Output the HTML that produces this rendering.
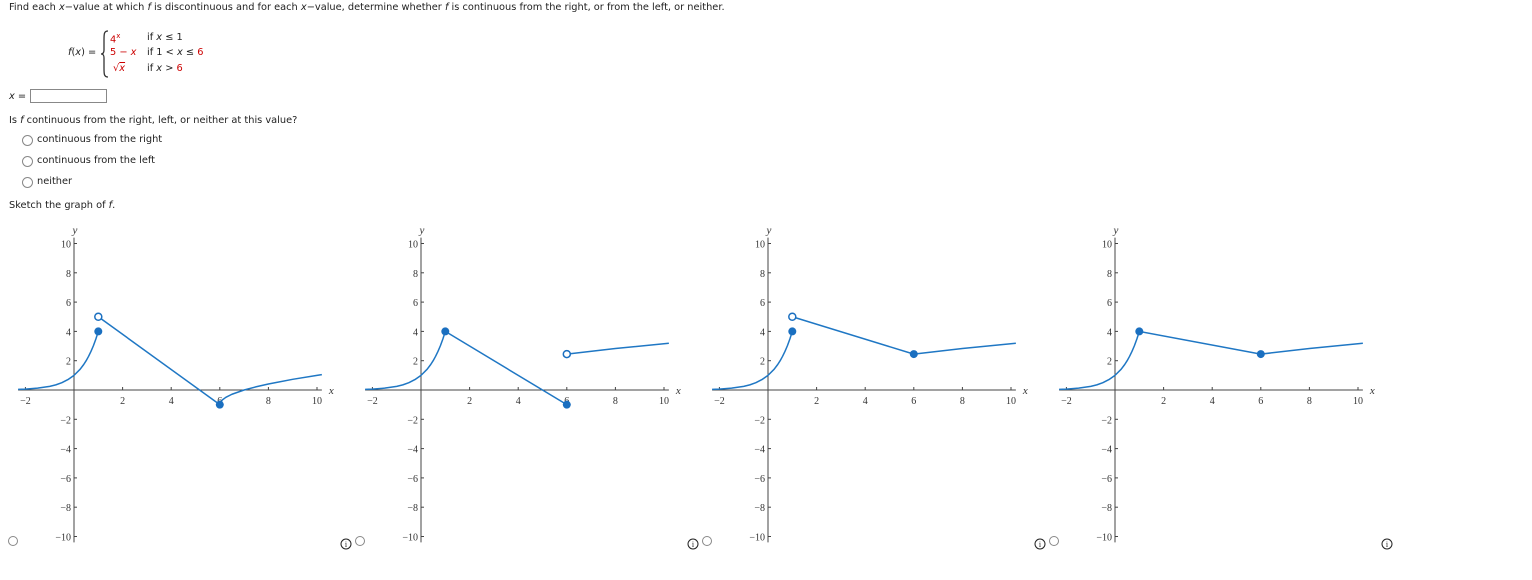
<!DOCTYPE html>
<html><head><meta charset="utf-8">
<style>
body{margin:0;width:1532px;height:580px;background:#fff;font-family:Verdana,"DejaVu Sans",sans-serif;font-size:9.8px;color:#222;position:relative;overflow:hidden}
.a{position:absolute;white-space:nowrap}
.r{color:#c00}
.rad{position:absolute;width:9px;height:9px;border:1px solid #888;border-radius:50%}
</style></head><body>
<div class="a" style="left:9px;top:2px">Find each <i>x</i>−value at which <i>f</i> is discontinuous and for each <i>x</i>−value, determine whether <i>f</i> is continuous from the right, or from the left, or neither.</div>
<div>
<div class="a" style="left:68px;top:47px"><i>f</i>(<i>x</i>) =</div>
<svg class="a" style="left:100px;top:30px" width="10" height="48"><path d="M8 1 C4 1 4 4 4 10 L4 20 C4 23 3 24 1 24 C3 24 4 25 4 28 L4 38 C4 44 4 47 8 47" fill="none" stroke="#333" stroke-width="1.3"/></svg>
<div class="a r" style="left:110px;top:32px">4<sup style="font-size:7px">x</sup></div>
<div class="a r" style="left:110px;top:47px">5 − <i>x</i></div>
<div class="a r" style="left:113px;top:63px">√<span style="text-decoration:overline"><i>x</i></span></div>
<div class="a" style="left:147px;top:32px">if <i>x</i> ≤ 1</div>
<div class="a" style="left:147px;top:47px">if 1 &lt; <i>x</i> ≤ <span class="r">6</span></div>
<div class="a" style="left:147px;top:63px">if <i>x</i> &gt; <span class="r">6</span></div>
</div>
<div class="a" style="left:9px;top:91px"><i>x</i> =</div>
<div class="a" style="left:30px;top:89px;width:75px;height:12px;border:1px solid #888"></div>
<div class="a" style="left:9px;top:115px">Is <i>f</i> continuous from the right, left, or neither at this value?</div>
<div class="rad" style="left:22px;top:135px"></div>
<div class="a" style="left:37px;top:134px">continuous from the right</div>
<div class="rad" style="left:22px;top:156px"></div>
<div class="a" style="left:37px;top:155px">continuous from the left</div>
<div class="rad" style="left:22px;top:177px"></div>
<div class="a" style="left:37px;top:176px">neither</div>
<div class="a" style="left:9px;top:200px">Sketch the graph of <i>f</i>.</div>
<svg id="s" width="1532" height="580" style="position:absolute;left:0;top:0" xmlns="http://www.w3.org/2000/svg"></svg>
<script>
const xTicks=[-2,2,4,6,8,10];
const yTicks=[-10,-8,-6,-4,-2,2,4,6,8,10];
const offsets=[0,347,694,1041];
const expPiece=[[-2.3,0.04],[-2,0.06],[-1.5,0.125],[-1,0.25],[-0.75,0.35],[-0.5,0.5],[-0.25,0.71],[0,1],[0.25,1.41],[0.4,1.74],[0.5,2],[0.6,2.3],[0.7,2.64],[0.8,3.03],[0.9,3.48],[1,4]];
const g1Seg=[expPiece,[[1,5],[6,-1]],[[6,-1],[6.1,-0.68],[6.25,-0.5],[6.5,-0.29],[7,0],[7.5,0.22],[8,0.41],[9,0.73],[10,1],[10.2,1.05]]];
const g1Fill=[[1,4],[6,-1]];const g1Open=[[1,5]];
const g2Seg=[expPiece,[[1,4],[6,-1]],[[6,2.45],[8,2.83],[10.2,3.19]]];
const g2Fill=[[1,4],[6,-1]];const g2Open=[[6,2.45]];
const g3Seg=[expPiece,[[1,5],[6,2.45]],[[6,2.45],[8,2.83],[10.2,3.19]]];
const g3Fill=[[1,4],[6,2.45]];const g3Open=[[1,5]];
const g4Seg=[expPiece,[[1,4],[6,2.45]],[[6,2.45],[8,2.83],[10.2,3.19]]];
const g4Fill=[[1,4],[6,2.45]];const g4Open=[];
const graphs=[[g1Seg,g1Fill,g1Open],[g2Seg,g2Fill,g2Open],[g3Seg,g3Fill,g3Open],[g4Seg,g4Fill,g4Open]];
const NS='http://www.w3.org/2000/svg';const svg=document.getElementById('s');
function mk(t,a,p){const e=document.createElementNS(NS,t);for(const k in a)e.setAttribute(k,a[k]);(p||svg).appendChild(e);return e;}
graphs.forEach((g,i)=>{
 const o=offsets[i];
 const X=v=>o+74+v*24.3, Y=v=>390-v*14.65;
 const grp=mk('g',{});
 
 
 const ax=mk('line',{x1:X(-2.3),x2:X(10.2),y1:Y(0),y2:Y(0),stroke:'#444','stroke-width':1},grp);
 
 const ay=mk('line',{x1:X(0),x2:X(0),y1:Y(10.4),y2:Y(-10.4),stroke:'#444','stroke-width':1},grp);
 
 xTicks.forEach(t=>{mk('line',{x1:X(t),x2:X(t),y1:Y(0)-3,y2:Y(0),stroke:'#444'},grp);
  const tx=mk('text',{x:X(t),y:Y(0)+14,'text-anchor':'middle','font-family':'Liberation Serif,serif','font-size':10,fill:'#333'},grp);tx.textContent=t<0?'−'+(-t):t;
  });
 yTicks.forEach(t=>{mk('line',{x1:X(0),x2:X(0)+3,y1:Y(t),y2:Y(t),stroke:'#444'},grp);
  const tx=mk('text',{x:X(0)-3,y:Y(t)+4,'text-anchor':'end','font-family':'Liberation Serif,serif','font-size':10,fill:'#333'},grp);tx.textContent=t<0?'−'+(-t):t;
  });
 const xl=mk('text',{x:X(10.2)+7,y:Y(0)+4,'font-family':'Liberation Serif,serif','font-style':'italic','font-size':11,fill:'#333'},grp);xl.textContent='x';
 
 const yl=mk('text',{x:X(0)+1,y:Y(10)-10,'text-anchor':'middle','font-family':'Liberation Serif,serif','font-style':'italic','font-size':11,fill:'#333'},grp);yl.textContent='y';
 
 g[0].forEach(seg=>{const p=mk('polyline',{points:seg.map(q=>X(q[0])+','+Y(q[1])).join(' '),fill:'none',stroke:'#1f77c4','stroke-width':1.5,'stroke-linejoin':'round'},grp);
  });
 g[1].forEach(q=>{const c=mk('circle',{cx:X(q[0]),cy:Y(q[1]),r:4,fill:'#1a6fc0'},grp);
  });
 g[2].forEach(q=>{const c=mk('circle',{cx:X(q[0]),cy:Y(q[1]),r:3.5,fill:'#fff',stroke:'#1a6fc0','stroke-width':1.5},grp);
  });
 const r=mk('circle',{cx:o+13,cy:541,r:4.5,fill:'#fff',stroke:'#888'});
 
 const ig=mk('g',{});
 
 mk('circle',{cx:o+346,cy:544,r:5,fill:'#fff',stroke:'#222'},ig);
 const it=mk('text',{x:o+346,y:547,'text-anchor':'middle','font-size':8,'font-family':'Liberation Serif,serif',fill:'#222'},ig);it.textContent='i';
});
</script>
</body></html>
